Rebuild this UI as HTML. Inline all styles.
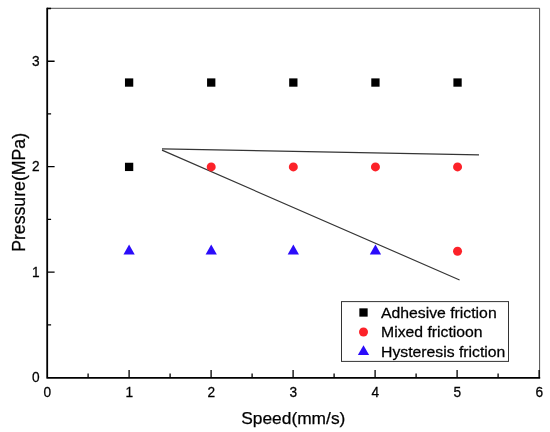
<!DOCTYPE html>
<html><head><meta charset="utf-8"><title>Friction map</title>
<style>
html,body{margin:0;padding:0;background:#fff;}
body{width:550px;height:432px;overflow:hidden;}
svg{display:block;}
text{font-family:"Liberation Sans",Arial,sans-serif;fill:#000;stroke:#000;stroke-width:0.25px;}
</style></head><body>
<svg width="550" height="432" viewBox="0 0 550 432">
<rect width="550" height="432" fill="#fff"/>
<path d="M47.1 8.3 H539.6 V377.4" fill="none" stroke="#505050" stroke-width="1"/>
<path d="M47.2 7.8 V377.9 H540.2" fill="none" stroke="#000" stroke-width="1.8" stroke-linejoin="round"/>
<path d="M88.10 377.9 v-4.5 M129.10 377.9 v-8.0 M170.10 377.9 v-4.5 M211.10 377.9 v-8.0 M252.10 377.9 v-4.5 M293.10 377.9 v-8.0 M334.10 377.9 v-4.5 M375.10 377.9 v-8.0 M416.10 377.9 v-4.5 M457.10 377.9 v-8.0 M498.10 377.9 v-4.5 M539.10 377.9 v-8.0 M47.1 324.87 h4 M47.1 272.15 h7.5 M47.1 219.42 h4 M47.1 166.70 h7.5 M47.1 113.97 h4 M47.1 61.25 h7.5 M47.1 8.52 h4" fill="none" stroke="#000" stroke-width="1.3"/>
<text transform="translate(47.4 396.8) scale(1 1.12)" font-size="13.7" text-anchor="middle">0</text>
<text transform="translate(129.4 396.8) scale(1 1.12)" font-size="13.7" text-anchor="middle">1</text>
<text transform="translate(211.4 396.8) scale(1 1.12)" font-size="13.7" text-anchor="middle">2</text>
<text transform="translate(293.4 396.8) scale(1 1.12)" font-size="13.7" text-anchor="middle">3</text>
<text transform="translate(375.4 396.8) scale(1 1.12)" font-size="13.7" text-anchor="middle">4</text>
<text transform="translate(457.4 396.8) scale(1 1.12)" font-size="13.7" text-anchor="middle">5</text>
<text transform="translate(539.4 396.8) scale(1 1.12)" font-size="13.7" text-anchor="middle">6</text>
<text transform="translate(39.5 382.05) scale(1 1.12)" font-size="13.7" text-anchor="end">0</text>
<text transform="translate(39.5 276.60) scale(1 1.12)" font-size="13.7" text-anchor="end">1</text>
<text transform="translate(39.5 171.15) scale(1 1.12)" font-size="13.7" text-anchor="end">2</text>
<text transform="translate(39.5 65.70) scale(1 1.12)" font-size="13.7" text-anchor="end">3</text>
<text x="293.3" y="424" font-size="17.35" text-anchor="middle">Speed(mm/s)</text>
<text transform="translate(24.9 192.4) rotate(-90)" font-size="17.7" text-anchor="middle">Pressure(MPa)</text>
<path d="M162 148.9 L479 154.9 M162 150.1 L459.6 280" fill="none" stroke="#353535" stroke-width="1.15"/>
<rect x="124.96" y="78.39" width="8.3" height="8.3" fill="#000"/>
<rect x="207.07" y="78.39" width="8.3" height="8.3" fill="#000"/>
<rect x="289.18" y="78.39" width="8.3" height="8.3" fill="#000"/>
<rect x="371.29" y="78.39" width="8.3" height="8.3" fill="#000"/>
<rect x="453.40" y="78.39" width="8.3" height="8.3" fill="#000"/>
<rect x="124.96" y="162.75" width="8.3" height="8.3" fill="#000"/>
<circle cx="211.22" cy="166.90" r="4.5" fill="#fc2229"/>
<circle cx="293.33" cy="166.90" r="4.5" fill="#fc2229"/>
<circle cx="375.44" cy="166.90" r="4.5" fill="#fc2229"/>
<circle cx="457.55" cy="166.90" r="4.5" fill="#fc2229"/>
<circle cx="457.55" cy="251.26" r="4.5" fill="#fc2229"/>
<path d="M129.11 244.56 l5.65 9.9 h-11.3 z" fill="#2b0cfa"/>
<path d="M211.22 244.56 l5.65 9.9 h-11.3 z" fill="#2b0cfa"/>
<path d="M293.33 244.56 l5.65 9.9 h-11.3 z" fill="#2b0cfa"/>
<path d="M375.44 244.56 l5.65 9.9 h-11.3 z" fill="#2b0cfa"/>
<rect x="341.5" y="301.6" width="167" height="59.8" fill="#fff" stroke="#333" stroke-width="1"/>
<rect x="359.35" y="308.35" width="8.3" height="8.3" fill="#000"/>
<circle cx="363.50" cy="332.00" r="4.5" fill="#fc2229"/>
<path d="M363.50 345.20 l5.65 9.9 h-11.3 z" fill="#2b0cfa"/>
<text transform="translate(381 318) scale(1.018 1)" font-size="15.5">Adhesive friction</text>
<text transform="translate(381 337) scale(1.018 1)" font-size="15.5">Mixed frictioon</text>
<text transform="translate(381 356.5) scale(1.018 1)" font-size="15.5">Hysteresis friction</text>
</svg></body></html>
